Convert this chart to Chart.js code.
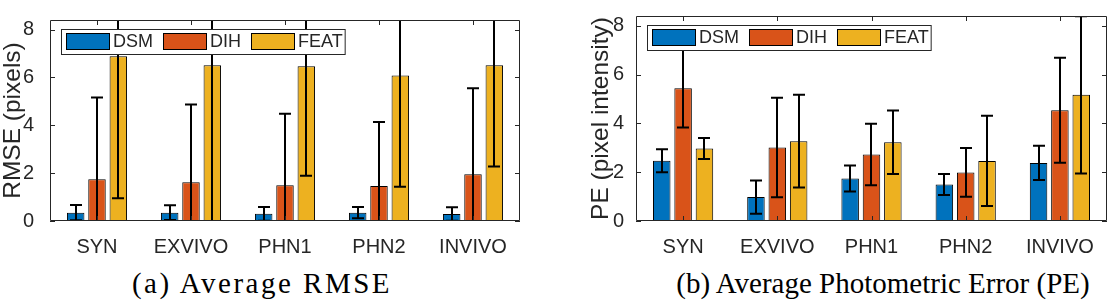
<!DOCTYPE html>
<html>
<head>
<meta charset="utf-8">
<script src="https://cdn.jsdelivr.net/npm/chart.js@4.4.0/dist/chart.umd.min.js"></script>
<style>
  body { margin: 0; background: #fff; }
  #wrap { position: relative; width: 1110px; height: 305px; overflow: hidden; background: #fff; }
  canvas { position: absolute; top: 0; }
  .cap { position: absolute; bottom: 5px; width: 500px; height: 34px; line-height: 34px; text-align: center;
         font-family: "Liberation Serif", serif; font-size: 29px; color: #000; white-space: nowrap; }
</style>
</head>
<body>
<div id="wrap">
  <canvas id="rmseChart" width="525" height="260" style="left:0"></canvas>
  <canvas id="peChart" width="555" height="260" style="left:555px"></canvas>
  <div class="cap" style="left:12px; letter-spacing:2.5px">(a) Average RMSE</div>
  <div class="cap" style="left:633px">(b) Average Photometric Error (PE)</div>
</div>
<script>
const categories = ['SYN', 'EXVIVO', 'PHN1', 'PHN2', 'INVIVO'];
const methods = ['DSM', 'DIH', 'FEAT'];
const colors = ['#0072BD', '#D95319', '#EDB120'];
const yTicks = [0, 2, 4, 6, 8];

// (a) RMSE in pixels, mean and std
const rmseDSM = [0.35, 0.35, 0.30, 0.35, 0.29];
const rmseDSMErr = [0.32, 0.31, 0.29, 0.24, 0.28];
const rmseDIH = [1.75, 1.62, 1.49, 1.46, 1.95];
const rmseDIHErr = [3.41, 3.25, 2.99, 2.68, 3.60];
const rmseFEAT = [6.89, 6.51, 6.47, 6.08, 6.51];
const rmseFEATErr = [5.94, 6.90, 4.58, 4.65, 4.23];

// (b) photometric error, mean and std
const peDSM = [2.47, 0.98, 1.74, 1.50, 2.38];
const peDSMErr = [0.47, 0.68, 0.53, 0.43, 0.70];
const peDIH = [5.44, 3.01, 2.72, 1.99, 4.54];
const peDIHErr = [1.61, 2.04, 1.26, 1.00, 2.15];
const peFEAT = [2.97, 3.27, 3.23, 2.46, 5.17];
const peFEATErr = [0.43, 1.90, 1.30, 1.85, 3.22];

const axisColor = '#262626';
const sansFont = '"Liberation Sans", Arial, sans-serif';
Chart.defaults.font.family = sansFont;
Chart.defaults.color = axisColor;

const errorBars = {
  id: 'errorBars',
  afterDatasetsDraw(chart) {
    const { ctx, chartArea: a, scales: { y } } = chart;
    ctx.save();
    ctx.beginPath();
    ctx.rect(a.left, a.top, a.right - a.left, a.bottom - a.top);
    ctx.clip();
    ctx.strokeStyle = '#000';
    ctx.lineWidth = 2;
    chart.data.datasets.forEach((ds, i) => {
      chart.getDatasetMeta(i).data.forEach((bar, j) => {
        const v = ds.data[j], e = ds.err[j];
        const yt = y.getPixelForValue(v + e);
        const yb = y.getPixelForValue(v - e);
        const x = Math.round(bar.x);
        ctx.beginPath();
        ctx.moveTo(x, yt); ctx.lineTo(x, yb);
        ctx.moveTo(x - 6, yt); ctx.lineTo(x + 6, yt);
        ctx.moveTo(x - 6, yb); ctx.lineTo(x + 6, yb);
        ctx.stroke();
      });
    });
    ctx.restore();
  }
};

// box around the axes with inward ticks, like matlab
const frame = {
  id: 'frame',
  afterDraw(chart) {
    const { ctx, chartArea: a, scales: { x, y } } = chart;
    ctx.save();
    ctx.strokeStyle = axisColor;
    ctx.lineWidth = 1;
    ctx.beginPath();
    ctx.rect(a.left + 0.5, a.top + 0.5, a.right - a.left - 1, a.bottom - a.top - 1);
    yTicks.forEach(t => {
      const py = Math.round(y.getPixelForValue(t)) + 0.5;
      ctx.moveTo(a.left, py); ctx.lineTo(a.left + 5, py);
      ctx.moveTo(a.right, py); ctx.lineTo(a.right - 5, py);
    });
    categories.forEach((c, i) => {
      const px = Math.round(x.getPixelForValue(i)) + 0.5;
      ctx.moveTo(px, a.bottom); ctx.lineTo(px, a.bottom - 5);
      ctx.moveTo(px, a.top); ctx.lineTo(px, a.top + 5);
    });
    ctx.stroke();
    ctx.restore();
  }
};

const boxLegend = {
  id: 'boxLegend',
  afterDraw(chart) {
    const { ctx, chartArea: a } = chart;
    const x0 = a.left + 11, y0 = a.top + 9, h = 25;
    ctx.save();
    ctx.font = '18px ' + sansFont;
    let w = 5;
    methods.forEach(m => { w += 44 + 3 + ctx.measureText(m).width + 10; });
    w = w - 10 + 2;
    ctx.fillStyle = '#fff';
    ctx.fillRect(x0, y0, w, h);
    ctx.strokeStyle = axisColor;
    ctx.lineWidth = 1;
    ctx.strokeRect(x0 + 0.5, y0 + 0.5, w, h);
    let cx = x0 + 5;
    ctx.textBaseline = 'middle';
    methods.forEach((m, i) => {
      ctx.fillStyle = colors[i];
      ctx.fillRect(cx, y0 + 4, 44, 17);
      ctx.strokeStyle = '#000';
      ctx.strokeRect(cx + 0.5, y0 + 4.5, 43, 16);
      cx += 47;
      ctx.fillStyle = axisColor;
      ctx.fillText(m, cx, y0 + h / 2 + 1);
      cx += ctx.measureText(m).width + 10;
    });
    ctx.restore();
  }
};

function makeChart(id, title, series, errs, opt) {
  return new Chart(document.getElementById(id), {
    type: 'bar',
    data: {
      labels: categories,
      datasets: methods.map((m, i) => ({
        label: m,
        data: series[i],
        err: errs[i],
        backgroundColor: colors[i],
        borderColor: '#000',
        borderWidth: 1,
        categoryPercentage: 0.68,
        barPercentage: 0.82
      }))
    },
    options: {
      responsive: false,
      animation: false,
      devicePixelRatio: 1,
      layout: { padding: { left: 0, right: opt.padRight, top: 5, bottom: 0 } },
      plugins: { legend: { display: false }, tooltip: { enabled: false } },
      scales: {
        x: {
          grid: { display: false },
          border: { display: false },
          ticks: { font: { size: 20 }, padding: 6, maxRotation: 0 },
          afterFit: s => { s.height = 39; }
        },
        y: {
          min: 0,
          max: 8.4,
          grid: { display: false },
          border: { display: false },
          ticks: { font: { size: 20 }, padding: opt.tickPad },
          afterBuildTicks: s => { s.ticks = yTicks.map(v => ({ value: v })); },
          afterFit: s => { s.width = opt.yWidth; },
          title: {
            display: true, text: title,
            font: { size: 24.5, lineHeight: 1 },
            padding: { top: opt.titlePad, bottom: 0 }
          }
        }
      }
    },
    plugins: [errorBars, frame, boxLegend]
  });
}

makeChart('rmseChart', 'RMSE (pixels)',
  [rmseDSM, rmseDIH, rmseFEAT], [rmseDSMErr, rmseDIHErr, rmseFEATErr],
  { padRight: 5, yWidth: 50, tickPad: 8, titlePad: 1 });

makeChart('peChart', 'PE (pixel intensity)',
  [peDSM, peDIH, peFEAT], [peDSMErr, peDIHErr, peFEATErr],
  { padRight: 3, yWidth: 81, tickPad: 4, titlePad: 34 });
</script>
</body>
</html>
